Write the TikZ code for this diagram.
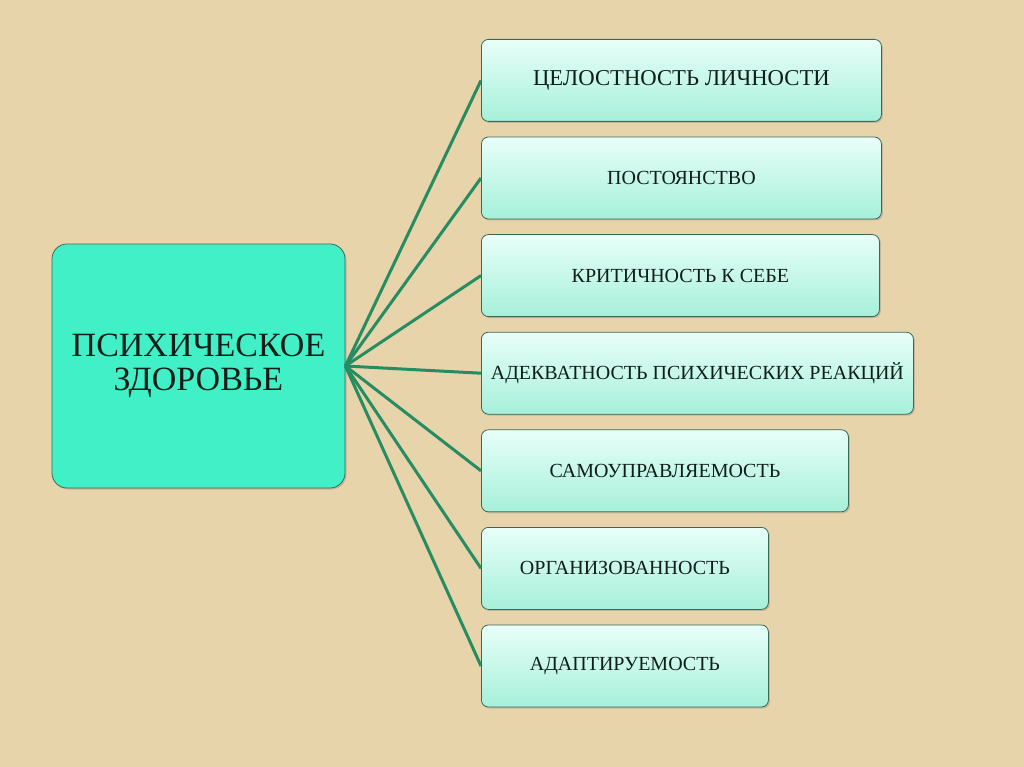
\documentclass[tikz,border=0pt]{standalone}
\usepackage{fontspec}
\setmainfont{Liberation Serif}
\usepackage{tikz}
\usetikzlibrary{positioning,shadows}

\definecolor{paper}{RGB}{231,212,170}
\definecolor{mainfill}{RGB}{66,240,200}
\definecolor{boxtop}{RGB}{232,255,248}
\definecolor{boxbottom}{RGB}{166,240,218}
\definecolor{edge}{RGB}{60,105,85}
\definecolor{linkgreen}{RGB}{38,140,98}
\definecolor{textdark}{RGB}{16,30,24}

\begin{document}
\begin{tikzpicture}[
  x=1pt, y=-1pt,
  box/.style={rectangle, draw=edge, line width=0.8pt, text=textdark, align=center, drop shadow={shadow xshift=1.5pt, shadow yshift=-1.5pt, opacity=0.35}},
  main/.style={box, fill=mainfill, rounded corners=15pt, minimum width=293pt, minimum height=244pt, font=\fontsize{34}{34}\selectfont},
  item/.style={box, top color=boxtop, bottom color=boxbottom, rounded corners=7pt, minimum height=82pt, font=\fontsize{20}{22}\selectfont},
  link/.style={line width=3pt, draw=linkgreen}
]

% фон
\fill[paper] (0,0) rectangle (1024,767);
\useasboundingbox (0,0) rectangle (1024,767);

% главный блок
\node[main] (health) at (198.5,366) {ПСИХИЧЕСКОЕ\\ЗДОРОВЬЕ};

% составляющие
\node[item, minimum width=400pt, anchor=north west, font=\fontsize{22.7}{24}\selectfont] (item1) at (481,39) {ЦЕЛОСТНОСТЬ ЛИЧНОСТИ};
\node[item, minimum width=400pt, below right=14.8pt and 0pt of item1.south west] (item2) {ПОСТОЯНСТВО};
\node[item, minimum width=398pt, below right=14.8pt and 0pt of item2.south west] (item3) {КРИТИЧНОСТЬ К СЕБЕ};
\node[item, minimum width=432pt, below right=14.8pt and 0pt of item3.south west] (item4) {АДЕКВАТНОСТЬ ПСИХИЧЕСКИХ РЕАКЦИЙ};
\node[item, minimum width=367pt, below right=14.8pt and 0pt of item4.south west] (item5) {САМОУПРАВЛЯЕМОСТЬ};
\node[item, minimum width=287pt, below right=14.8pt and 0pt of item5.south west] (item6) {ОРГАНИЗОВАННОСТЬ};
\node[item, minimum width=287pt, below right=14.8pt and 0pt of item6.south west] (item7) {АДАПТИРУЕМОСТЬ};

% связи
\draw[link] (health.east) -- (item1.west);
\draw[link] (health.east) -- (item2.west);
\draw[link] (health.east) -- (item3.west);
\draw[link] (health.east) -- (item4.west);
\draw[link] (health.east) -- (item5.west);
\draw[link] (health.east) -- (item6.west);
\draw[link] (health.east) -- (item7.west);

\end{tikzpicture}
\end{document}
